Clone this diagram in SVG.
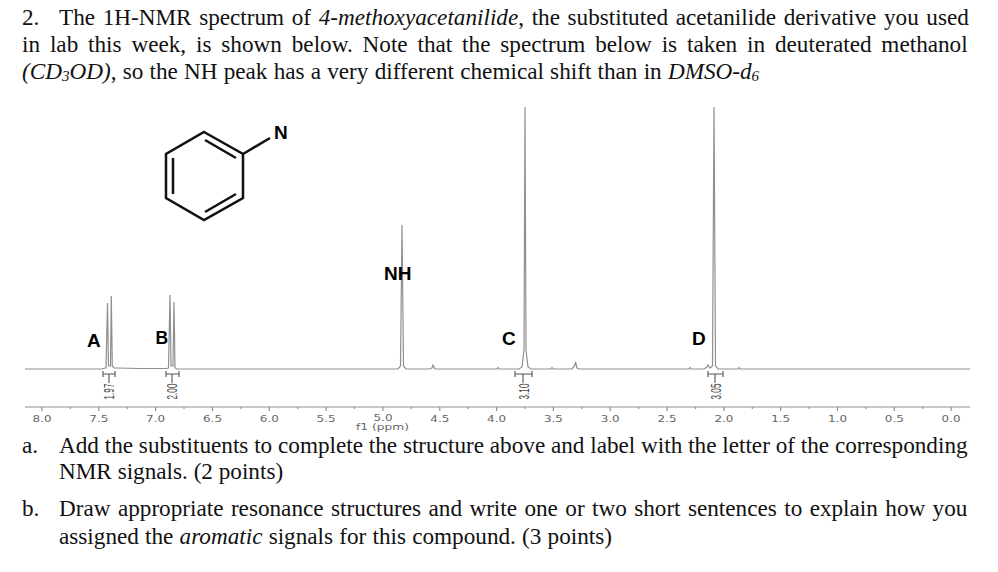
<svg xmlns="http://www.w3.org/2000/svg" width="998" height="572" viewBox="0 0 998 572">
<style>
.t{font-family:"Liberation Serif","Times New Roman",serif;font-size:23.2px;fill:#111}
.i{font-style:italic}
.u{font-size:15px}
.l{font-family:"Liberation Sans",Arial,sans-serif;font-weight:700;font-size:19px;fill:#000}
.a{font-family:"DejaVu Sans",sans-serif;font-size:9px;fill:#666}
.n{font-family:"Liberation Sans",Arial,sans-serif;font-size:14px;fill:#444}
.s{fill:none;stroke:#8f8f8f;stroke-width:1.2}
.g{fill:none;stroke:#555;stroke-width:1.1}
.b{fill:none;stroke:#111;stroke-width:2.5}
</style>
<rect width="998" height="572" fill="#fff"/>
<g id="question">
<text class="t" x="22" y="25">2.<tspan x="59" word-spacing="1.8">The 1H-NMR spectrum of </tspan><tspan class="i" word-spacing="1.8">4-methoxyacetanilide</tspan><tspan word-spacing="1.8">, the substituted acetanilide derivative you used</tspan></text>
<text class="t" x="22" y="52" word-spacing="4.06">in lab this week, is shown below. Note that the spectrum below is taken in deuterated methanol</text>
<text class="t" x="22" y="79" word-spacing="0.4"><tspan class="i">(CD<tspan class="u" dy="2">3</tspan><tspan dy="-2">OD)</tspan></tspan>, so the NH peak has a very different chemical shift than in <tspan class="i">DMSO-d<tspan class="u" dy="2">6</tspan></tspan></text>
</g>
<g id="structure">
<path class="b" d="M204 132L243 154V198L204 220L166 198V154ZM173 158V194M205 140L236 158M205 212L236 194"/>
<path class="b" d="M243 154L270 138"/>
<text class="l" x="274" y="139">N</text>
</g>
<g id="spectrum">
<path class="s" d="M25 369H102L105 368H106L107.500 303L108.500 366L110.500 366L111.300 296L112.300 366L114 368H117L140 368.500H166L168.500 368L170 295L171 366H173L174 302L175 368L177 369H398L400.500 366L402 225L403.500 366L406 369H429L432 368L433 365L435 369H497L498 367.500L499 369H519L522 367L524 350L525 107L526 350L528 367L531 369H551L552 367.500L553 369H572L574.500 366L575.500 362L577 368L579 369H689L690 367.500L691 369H704L707 367L708 365L710 368L712.500 366L714 107L715.500 366L718 369H738L739 367.500L740 369H970"/>
<path class="s" d="M25 407H970"/>
<path class="s" d="M42 407v4M70.400 407v2M98.800 407v4M127.200 407v2M155.600 407v4M184 407v2M212.500 407v4M240.900 407v2M269.300 407v4M297.700 407v2M326.100 407v4M354.500 407v2M382.900 407v4M411.300 407v2M439.800 407v4M468.200 407v2M496.600 407v4M525 407v2M553.400 407v4M581.800 407v2M610.200 407v4M638.600 407v2M667 407v4M695.500 407v2M723.900 407v4M752.300 407v2M780.700 407v4M809.100 407v2M837.500 407v4M865.900 407v2M894.300 407v4M922.700 407v2M951 407v4"/>
<g text-anchor="middle">
<text class="a" x="42" y="421.500" textLength="19" lengthAdjust="spacingAndGlyphs">8.0</text><text class="a" x="98.800" y="421.500" textLength="19" lengthAdjust="spacingAndGlyphs">7.5</text><text class="a" x="155.600" y="421.500" textLength="19" lengthAdjust="spacingAndGlyphs">7.0</text><text class="a" x="212.500" y="421.500" textLength="19" lengthAdjust="spacingAndGlyphs">6.5</text><text class="a" x="269.300" y="421.500" textLength="19" lengthAdjust="spacingAndGlyphs">6.0</text><text class="a" x="326.100" y="421.500" textLength="19" lengthAdjust="spacingAndGlyphs">5.5</text><text class="a" x="383" y="420.500" textLength="19" lengthAdjust="spacingAndGlyphs">5.0</text><text class="a" x="439.800" y="421.500" textLength="19" lengthAdjust="spacingAndGlyphs">4.5</text><text class="a" x="496.600" y="421.500" textLength="19" lengthAdjust="spacingAndGlyphs">4.0</text><text class="a" x="553.400" y="421.500" textLength="19" lengthAdjust="spacingAndGlyphs">3.5</text><text class="a" x="610.200" y="421.500" textLength="19" lengthAdjust="spacingAndGlyphs">3.0</text><text class="a" x="667" y="421.500" textLength="19" lengthAdjust="spacingAndGlyphs">2.5</text><text class="a" x="723.900" y="421.500" textLength="19" lengthAdjust="spacingAndGlyphs">2.0</text><text class="a" x="780.700" y="421.500" textLength="19" lengthAdjust="spacingAndGlyphs">1.5</text><text class="a" x="837.500" y="421.500" textLength="19" lengthAdjust="spacingAndGlyphs">1.0</text><text class="a" x="894.300" y="421.500" textLength="19" lengthAdjust="spacingAndGlyphs">0.5</text><text class="a" x="951" y="421.500" textLength="19" lengthAdjust="spacingAndGlyphs">0.0</text>
<text class="a" x="382.500" y="429.500" textLength="53" lengthAdjust="spacingAndGlyphs">f1 (ppm)</text>
</g>
<path class="g" d="M103 374H115M103 371V377M115 371V377M109 374V383M166 374H179M166 371V377M179 371V377M172 374V383M515 374H532M515 371V377M532 371V377M523 374V383M708 374H723M708 371V377M723 371V377M715 374V383"/>
<g text-anchor="middle">
<text class="n" transform="translate(114 391.500) rotate(-90) scale(.58 1)">1.97</text>
<text class="n" transform="translate(177 391.500) rotate(-90) scale(.58 1)">2.00</text>
<text class="n" transform="translate(529 391.500) rotate(-90) scale(.58 1)">3.10</text>
<text class="n" transform="translate(721 391.500) rotate(-90) scale(.58 1)">3.05</text>
</g>
</g>
<g id="peak-labels">
<text class="l" x="87" y="347">A</text>
<text class="l" x="155.500" y="344" style="font-size:17.500px">B</text>
<text class="l" x="384" y="280">NH</text>
<text class="l" x="502" y="345">C</text>
<text class="l" x="692" y="345">D</text>
</g>
<g id="parts">
<text class="t" x="22" y="453">a.<tspan x="59" word-spacing="0">Add the substituents to complete the structure above and label with the letter of the corresponding</tspan></text>
<text class="t" x="59" y="479">NMR signals. (2 points)</text>
<text class="t" x="22" y="516">b.<tspan x="59" word-spacing="1.6">Draw appropriate resonance structures and write one or two short sentences to explain how you</tspan></text>
<text class="t" x="59" y="544" word-spacing="0.4">assigned the <tspan class="i">aromatic</tspan> signals for this compound. (3 points)</text>
</g>
</svg>
